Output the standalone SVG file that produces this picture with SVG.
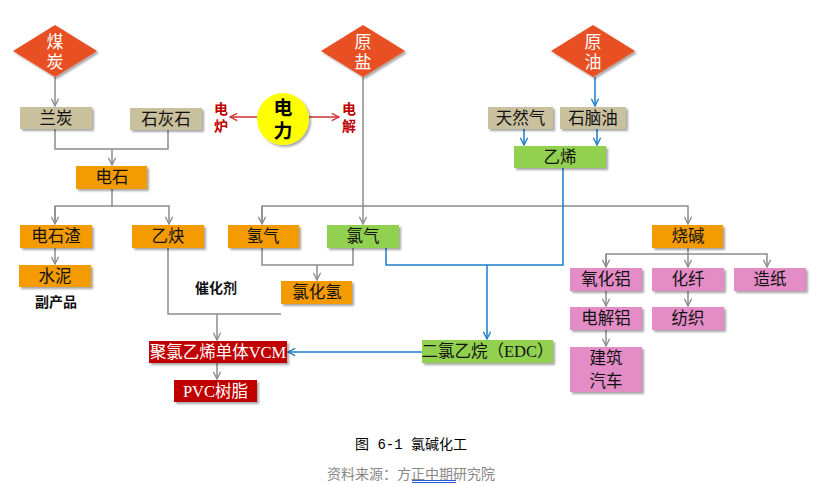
<svg xmlns="http://www.w3.org/2000/svg" width="819" height="486" viewBox="0 0 819 486">
<style>
.bx{stroke:none;filter:url(#sh)}
.tan{fill:#C9C09D}.org{fill:#F39B00}.grn{fill:#92D050}.pnk{fill:#E38CC6}.red{fill:#C00000}
.dia{fill:#E84F23;filter:url(#sh)}
.t{font-family:"Liberation Serif","Noto Sans CJK SC",serif;font-size:16.5px;fill:#111;text-anchor:middle;dominant-baseline:central}
.tw{fill:#fff}
.v{writing-mode:vertical-rl;text-anchor:middle}
.dt{font-family:"Noto Sans CJK SC",sans-serif;font-size:17px;fill:#fff;letter-spacing:3px}
.b{font-family:"Noto Sans CJK SC",sans-serif;font-weight:bold;text-anchor:middle;dominant-baseline:central}
.g{fill:none;stroke:#8C8C8C;stroke-width:1.5}
.bl{fill:none;stroke:#1E7BCB;stroke-width:1.5}
.rd{fill:none;stroke:#D03030;stroke-width:1.5}
</style>
<defs>
<filter id="sh" x="-10%" y="-10%" width="130%" height="140%">
<feDropShadow dx="2" dy="2" stdDeviation="1.2" flood-color="#000" flood-opacity="0.35"/>
</filter>
<marker id="ag" viewBox="0 0 10 10" refX="9" refY="5" markerWidth="9" markerHeight="9" markerUnits="userSpaceOnUse" orient="auto"><path d="M1,1 L9,5 L1,9" fill="none" stroke="#8C8C8C" stroke-width="1.5"/></marker>
<marker id="ab" viewBox="0 0 10 10" refX="9" refY="5" markerWidth="9" markerHeight="9" markerUnits="userSpaceOnUse" orient="auto"><path d="M1,1 L9,5 L1,9" fill="none" stroke="#1E7BCB" stroke-width="1.5"/></marker>
<marker id="ar" viewBox="0 0 10 10" refX="9" refY="5" markerWidth="9" markerHeight="9" markerUnits="userSpaceOnUse" orient="auto"><path d="M1,1 L9,5 L1,9" fill="none" stroke="#D03030" stroke-width="1.5"/></marker>
</defs>
<rect width="819" height="486" fill="#fff"/>

<g id="connectors">
<path class="g" d="M55,77 V106" marker-end="url(#ag)"/>
<path class="g" d="M55,129 V149 H168 V130"/>
<path class="g" d="M112,149 V165" marker-end="url(#ag)"/>
<path class="g" d="M112,189 V206"/>
<path class="g" d="M55,224 V206 H169 V224" marker-end="url(#ag)"/>
<path class="g" d="M55,206 V224" marker-end="url(#ag)"/>
<path class="g" d="M55,248 V264" marker-end="url(#ag)"/>
<path class="g" d="M168,248 V314 H281"/>
<path class="g" d="M217,314 V340" marker-end="url(#ag)"/>
<path class="g" d="M217,363 V379" marker-end="url(#ag)"/>
<path class="g" d="M363,77 V224" marker-end="url(#ag)"/>
<path class="g" d="M262,224 V206 H688 V224" marker-end="url(#ag)"/>
<path class="g" d="M262,206 V224" marker-end="url(#ag)"/>
<path class="g" d="M262,248 V265 H353 V248"/>
<path class="g" d="M317,265 V280" marker-end="url(#ag)"/>
<path class="g" d="M688,248 V267" marker-end="url(#ag)"/>
<path class="g" d="M606,267 V254 H767 V267" marker-end="url(#ag)"/>
<path class="g" d="M606,254 V267" marker-end="url(#ag)"/>
<path class="g" d="M606,291 V306" marker-end="url(#ag)"/>
<path class="g" d="M688,291 V306" marker-end="url(#ag)"/>
<path class="g" d="M606,330 V346" marker-end="url(#ag)"/>
<path class="bl" d="M595,77 V106" marker-end="url(#ab)"/>
<path class="bl" d="M524,129 V145" marker-end="url(#ab)"/>
<path class="bl" d="M597,129 V145" marker-end="url(#ab)"/>
<path class="bl" d="M563,168 V265 H386 V248"/>
<path class="bl" d="M487,265 V339" marker-end="url(#ab)"/>
<path class="bl" d="M422,352 H288" marker-end="url(#ab)"/>
<path class="rd" d="M257,117 H230" marker-end="url(#ar)"/>
<path class="rd" d="M309,117 H339" marker-end="url(#ar)"/>
</g>

<g id="n-coal"><polygon class="dia" points="55,25 97,51 55,77 13,51"/><text class="dt v" x="55" y="53">煤炭</text></g>
<g id="n-salt"><polygon class="dia" points="363,25 405,51 363,77 321,51"/><text class="dt v" x="363" y="53">原盐</text></g>
<g id="n-oil"><polygon class="dia" points="593,25 635,51 593,77 551,51"/><text class="dt v" x="593" y="53">原油</text></g>

<g id="n-power"><circle cx="283" cy="119" r="26" fill="#FFFF00" filter="url(#sh)"/><text class="v" x="283" y="121" font-family="'Noto Sans CJK SC',sans-serif" font-weight="bold" font-size="19" letter-spacing="4">电力</text></g>
<g id="n-furnace"><text class="v" x="221" y="119" font-family="'Noto Sans CJK SC',sans-serif" font-weight="bold" font-size="14" letter-spacing="3" fill="#C00000">电炉</text></g>
<g id="n-electrolysis"><text class="v" x="349" y="119" font-family="'Noto Sans CJK SC',sans-serif" font-weight="bold" font-size="14" letter-spacing="3" fill="#C00000">电解</text></g>

<g id="n-lantan"><rect class="bx tan" x="20" y="107" width="72" height="22"/><text class="t" x="56" y="118">兰炭</text></g>
<g id="n-limestone"><rect class="bx tan" x="130" y="108" width="72" height="22"/><text class="t" x="166" y="119">石灰石</text></g>
<g id="n-carbide"><rect class="bx org" x="76" y="166" width="71" height="23"/><text class="t" x="112" y="177.5">电石</text></g>
<g id="n-slag"><rect class="bx org" x="20" y="225" width="72" height="23"/><text class="t" x="56" y="236.5">电石渣</text></g>
<g id="n-cement"><rect class="bx org" x="19" y="265" width="72" height="22"/><text class="t" x="55" y="276">水泥</text></g>
<g id="n-byproduct"><text class="b" x="56" y="301" font-size="14" fill="#111">副产品</text></g>
<g id="n-acetylene"><rect class="bx org" x="132" y="225" width="72" height="23"/><text class="t" x="168" y="236.5">乙炔</text></g>
<g id="n-hydrogen"><rect class="bx org" x="228" y="225" width="71" height="23"/><text class="t" x="263" y="236.5">氢气</text></g>
<g id="n-chlorine"><rect class="bx grn" x="327" y="225" width="72" height="23"/><text class="t" x="363" y="236.5">氯气</text></g>
<g id="n-hcl"><rect class="bx org" x="281" y="281" width="71" height="23"/><text class="t" x="317" y="292.5">氯化氢</text></g>
<g id="n-catalyst"><text class="b" x="216" y="287" font-size="14" fill="#111">催化剂</text></g>
<g id="n-vcm"><rect class="bx red" x="149" y="341" width="138" height="22"/><text class="t tw" x="218" y="352">聚氯乙烯单体VCM</text></g>
<g id="n-pvc"><rect class="bx red" x="174" y="380" width="83" height="22"/><text class="t tw" x="215.5" y="391">PVC树脂</text></g>
<g id="n-edc"><rect class="bx grn" x="422" y="340" width="131" height="23"/><text class="t" x="487.5" y="351.5">二氯乙烷（EDC）</text></g>

<g id="n-gas"><rect class="bx tan" x="488" y="107" width="65" height="22"/><text class="t" x="520.5" y="118">天然气</text></g>
<g id="n-naphtha"><rect class="bx tan" x="560" y="107" width="66" height="22"/><text class="t" x="593" y="118">石脑油</text></g>
<g id="n-ethylene"><rect class="bx grn" x="514" y="146" width="92" height="22"/><text class="t" x="560" y="157">乙烯</text></g>

<g id="n-caustic"><rect class="bx org" x="652" y="225" width="71" height="23"/><text class="t" x="688" y="236.5">烧碱</text></g>
<g id="n-alumina"><rect class="bx pnk" x="570" y="268" width="72" height="23"/><text class="t" x="606" y="279.5">氧化铝</text></g>
<g id="n-fiber"><rect class="bx pnk" x="652" y="268" width="72" height="23"/><text class="t" x="688" y="279.5">化纤</text></g>
<g id="n-paper"><rect class="bx pnk" x="734" y="268" width="72" height="23"/><text class="t" x="770" y="279.5">造纸</text></g>
<g id="n-al"><rect class="bx pnk" x="570" y="307" width="72" height="23"/><text class="t" x="606" y="318.5">电解铝</text></g>
<g id="n-textile"><rect class="bx pnk" x="652" y="307" width="72" height="23"/><text class="t" x="688" y="318.5">纺织</text></g>
<g id="n-build"><rect class="bx pnk" x="570" y="347" width="72" height="45"/><text class="t" x="606" y="358.5">建筑<tspan x="606" y="380.5">汽车</tspan></text></g>

<g id="caption">
<text x="411" y="445" font-family="'Liberation Mono','Noto Sans CJK SC',monospace" font-size="14" fill="#000" text-anchor="middle" dominant-baseline="central">图 6-1 氯碱化工</text>
<text x="411" y="473" font-family="'Noto Sans CJK SC',sans-serif" font-size="14" fill="#888" text-anchor="middle" dominant-baseline="central">资料来源：方正中期研究院</text>
<path d="M412,480.5 H456 M412,482.5 H456" stroke="#2B5BD8" stroke-width="1" fill="none"/>
</g>
</svg>
